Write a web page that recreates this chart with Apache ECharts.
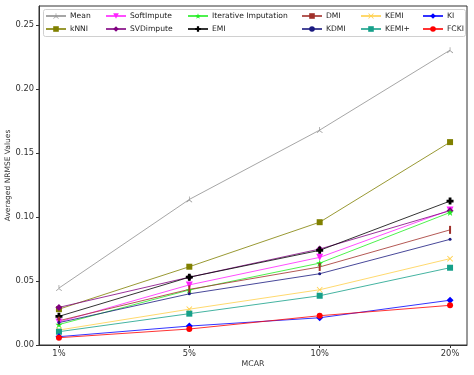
<!DOCTYPE html>
<html lang="en">
<head>
<meta charset="UTF-8">
<title>NRMSE vs MCAR</title>
<script src="https://cdn.jsdelivr.net/npm/echarts@6/dist/echarts.min.js"></script>
<style>
  html, body { margin: 0; padding: 0; background: #fff; }
  #chart { width: 474px; height: 375px; }
</style>
</head>
<body>
<div id="chart"></div>
<script>
var categories = ['1%', '5%', '10%', '20%'];
var yTicks = [0, 0.05, 0.10, 0.15, 0.20, 0.25];

var meanVals   = [0.0445, 0.1138, 0.168, 0.2305];
var knniVals   = [0.028, 0.0612, 0.096, 0.1586];
var softVals   = [0.018, 0.047, 0.0685, 0.1055];
var svdVals    = [0.0294, 0.053, 0.075, 0.105];
var iterVals   = [0.016, 0.043, 0.064, 0.1036];
var emiVals    = [0.0224, 0.053, 0.074, 0.1125];
var dmiVals    = [0.019, 0.0435, 0.061, 0.090];
var kdmiVals   = [0.0175, 0.040, 0.0557, 0.0826];
var kemiVals   = [0.0117, 0.028, 0.0432, 0.0675];
var kemipVals  = [0.0104, 0.0245, 0.0385, 0.0604];
var kiVals     = [0.0065, 0.0148, 0.0213, 0.035];
var fckiVals   = [0.0057, 0.0125, 0.0229, 0.031];

var star = 'path://M5,0L6.2,3.6L10,3.6L7,5.9L8.1,9.5L5,7.3L1.9,9.5L3,5.9L0,3.6L3.8,3.6Z';
var plusFill = 'path://M3,0h4v3h3v4h-3v3h-4v-3h-3v-4h3z';
var vbar = 'path://M0,0h1v10h-1z';
var cross = 'path://M1,0L5,4L9,0L10,1L6,5L10,9L9,10L5,6L1,10L0,9L4,5L0,1Z';
var triDown = 'path://M4.5,0h1v5l4,3l-0.6,0.8l-3.9,-3l-3.9,3l-0.6,-0.8l4,-3z';

function mk(name, vals, color, symbol, size, rot) {
  return {
    name: name, type: 'line',
    data: vals.map(function (v, i) { return [i, v]; }),
    symbol: symbol, symbolSize: size, symbolRotate: rot || 0,
    showSymbol: true,
    lineStyle: { width: 1, color: color, opacity: 0.8 },
    itemStyle: { color: color },
    emphasis: { disabled: true },
    animation: false
  };
}

var series = [
  mk('Mean', meanVals, '#909090', triDown, 6),
  mk('kNNI', knniVals, '#808000', 'rect', 6),
  mk('SoftImpute', softVals, '#ff22ff', 'triangle', 7, 180),
  mk('SVDimpute', svdVals, '#800080', 'diamond', 7),
  mk('Iterative Imputation', iterVals, '#22ee22', star, 7),
  mk('EMI', emiVals, '#000000', plusFill, 7),
  mk('DMI', dmiVals, '#a0302a', vbar, [2, 8]),
  mk('KDMI', kdmiVals, '#1a1a80', 'circle', 3),
  mk('KEMI', kemiVals, '#ffd04a', cross, 6),
  mk('KEMI+', kemipVals, '#16a08a', 'rect', 6),
  mk('KI', kiVals, '#0000ff', 'diamond', 7),
  mk('FCKI', fckiVals, '#ff0000', 'circle', 6)
];

var cols = [
  { left: 45, names: ['Mean', 'kNNI'] },
  { left: 105, names: ['SoftImpute', 'SVDimpute'] },
  { left: 187, names: ['Iterative Imputation', 'EMI'] },
  { left: 301, names: ['DMI', 'KDMI'] },
  { left: 360, names: ['KEMI', 'KEMI+'] },
  { left: 422, names: ['KI', 'FCKI'] }
];
var legends = cols.map(function (c) {
  return {
    left: c.left, top: 12, orient: 'vertical',
    data: c.names, itemWidth: 20, itemHeight: 7, itemGap: 5,
    selectedMode: false, padding: 0,
    textStyle: { fontFamily: 'DejaVu Sans', fontSize: 7.6, color: '#222', padding: [0, 0, 0, -1] }
  };
});

var tickIdx = categories.map(function (c, i) { return i; });

var chart = echarts.init(document.getElementById('chart'), null, { renderer: 'canvas' });
chart.setOption({
  animation: false,
  textStyle: { fontFamily: 'DejaVu Sans' },
  grid: {
    left: 39, right: 7, top: 6, bottom: 30, show: true,
    borderColor: '#333', borderWidth: 1, containLabel: false, outerBoundsMode: 'none'
  },
  graphic: [{
    type: 'rect', left: 43, top: 9, z: 0,
    shape: { width: 422, height: 27, r: 2 },
    style: { fill: '#fff', stroke: '#d0d0d0', lineWidth: 1 }
  }],
  legend: legends,
  xAxis: {
    type: 'value', min: -0.153, max: 3.13,
    name: 'MCAR', nameLocation: 'middle', nameGap: 15, nameMoveOverlap: false,
    nameTextStyle: { fontSize: 7.8, color: '#333' },
    axisLine: { show: true, onZero: false, lineStyle: { color: '#333' } },
    axisTick: { show: true, length: 3, customValues: tickIdx, lineStyle: { color: '#333' } },
    splitLine: { show: false },
    axisLabel: {
      fontSize: 8.3, color: '#333', margin: 5, customValues: tickIdx,
      formatter: function (v) { return categories[Math.round(v)] || ''; }
    }
  },
  yAxis: {
    type: 'value', min: 0, max: 0.265,
    name: 'Averaged NRMSE Values', nameLocation: 'middle', nameGap: 27, nameMoveOverlap: false,
    nameTextStyle: { fontSize: 7.5, color: '#333' },
    axisLine: { show: true, onZero: false, lineStyle: { color: '#333' } },
    axisTick: { show: true, length: 3, customValues: yTicks, lineStyle: { color: '#333' } },
    splitLine: { show: false },
    axisLabel: {
      fontSize: 8.3, color: '#333', margin: 5, customValues: yTicks,
      formatter: function (v) { return v.toFixed(2); }
    }
  },
  series: series
});
</script>
</body>
</html>
